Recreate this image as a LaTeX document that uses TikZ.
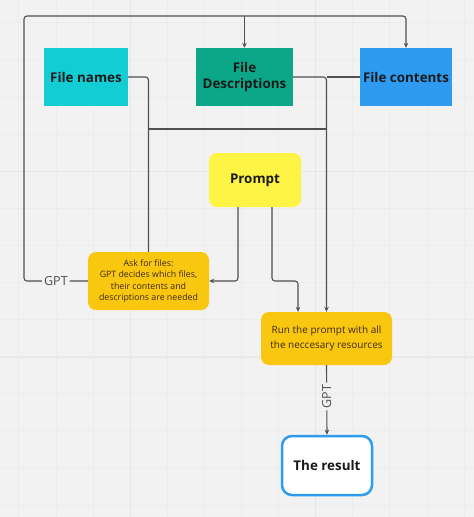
\documentclass[tikz,border=0pt]{standalone}
\usepackage{fontspec}
\setmainfont{Open Sans}
\usetikzlibrary{arrows.meta,calc}
\definecolor{bg}{HTML}{F2F2F2}
\definecolor{gridc}{HTML}{ECECEC}
\definecolor{gridm}{HTML}{E7E7E7}
\definecolor{linec}{HTML}{505050}
\definecolor{cyanb}{HTML}{12CDD4}
\definecolor{tealb}{HTML}{0CA789}
\definecolor{blueb}{HTML}{2D9BF0}
\definecolor{yellb}{HTML}{FEF445}
\definecolor{orangeb}{HTML}{FAC710}
\definecolor{txt}{HTML}{1A1A1A}
\tikzset{
  box/.style={draw=none, minimum width=#1, inner sep=0pt, align=center, font=\fontsize{13.4}{16}\selectfont\bfseries, text=txt},
  rbox/.style={box=#1, rounded corners=8pt},
  conn/.style={draw=linec, line width=1.1pt, rounded corners=3pt},
  arr/.style={conn, -{Stealth[length=5pt,width=4.5pt]}},
  lbl/.style={fill=bg, text=linec, inner sep=2pt, font=\fontsize{12.5}{14}\selectfont},
  small/.style={font=\fontsize{8.8}{11.5}\selectfont, text=txt!85!orange},
}
\begin{document}
\begin{tikzpicture}[x=1pt,y=-1pt]
\fill[bg] (0,0) rectangle (474,517);
\useasboundingbox (0,0) rectangle (474,517);
% grid
\foreach \i in {0,...,13} {
  \draw[gridc, line width=0.6pt] ({18.7+37.1*\i},0) -- ({18.7+37.1*\i},517);
}
\foreach \i in {0,...,14} {
  \draw[gridc, line width=0.6pt] (0,{22.6+37.1*\i}) -- (474,{22.6+37.1*\i});
}
\foreach \x in {130,315} \draw[gridm, line width=0.9pt] (\x,0) -- (\x,517);
\foreach \y in {171,357} \draw[gridm, line width=0.9pt] (0,\y) -- (474,\y);

% nodes
\node[box=84pt, minimum height=58pt, fill=cyanb] (fn) at (86,77) {File names};
\node[box=97pt, minimum height=58pt, fill=tealb] (fd) at (244.5,77) {File\\Descriptions};
\node[box=92pt, minimum height=58pt, fill=blueb] (fc) at (406,77) {File contents};
\node[rbox=92pt, minimum height=54pt, fill=yellb] (pr) at (255,180) {Prompt};
\node[rbox=121pt, minimum height=58pt, fill=orangeb, small] (ask) at (148.5,281) {Ask for files:\\GPT decides which files,\\their contents and\\descriptions are needed};
\node[rbox=131pt, minimum height=53pt, fill=orangeb, font=\fontsize{10}{14.5}\selectfont, text=txt!85!orange] (run) at (326.5,338.5) {Run the prompt with all\\the neccesary resources};
\node[rbox=90pt, minimum height=59pt, fill=white, draw=blueb, line width=2.5pt, rounded corners=10pt] (res) at (327,465.5) {The result};

% coordinates
\coordinate (tl) at (24,16);
\coordinate (bus) at (148.5,129);
\coordinate (rin) at ([xshift=-28.5pt]run.north);

% connectors
\draw[conn] (fn.east) -| (ask.north);
\draw[conn] (bus) -- (bus -| run.north);
\draw[arr] (fd.east) -| (run.north);
\draw[conn] (fc.west) -- (fc.west -| run.north);
\draw[arr] (ask.west) -- node[lbl]{GPT} (ask.west -| tl) -- (tl) -| (fc.north);
\draw[arr] (fd.north |- tl) -- (fd.north);
\draw[arr] ([xshift=-17pt]pr.south) |- (ask.east);
\draw[arr] ([xshift=17pt]pr.south) |- (rin |- ask.east) -- (rin);
\draw[arr] (run.south) -- node[lbl, rotate=90, pos=0.45]{GPT} (res.north);
\end{tikzpicture}
\end{document}
